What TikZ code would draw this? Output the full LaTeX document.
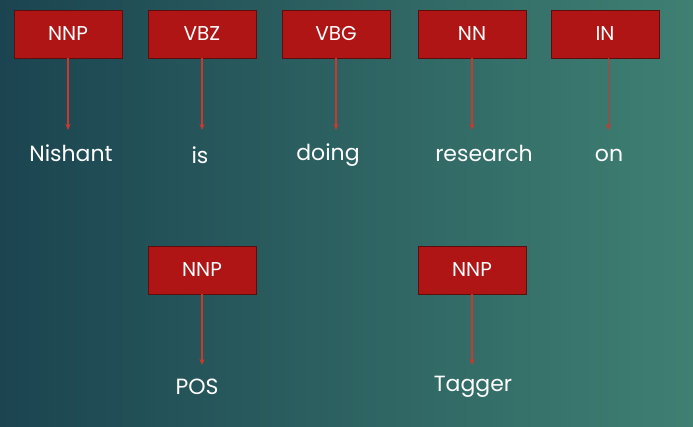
\documentclass[tikz,border=0pt]{standalone}
\usepackage{fontspec}
\setmainfont{Poppins}
\usetikzlibrary{arrows.meta,shadings}
\definecolor{bgA}{HTML}{1B4450}
\definecolor{bgB}{HTML}{3F8073}
\definecolor{tagred}{HTML}{B01515}
\definecolor{tagedge}{HTML}{5A0E0E}
\definecolor{arr}{HTML}{C83A30}
\begin{document}
\begin{tikzpicture}[x=1pt,y=-1pt,
  tagbox/.style={draw=tagedge,fill=tagred,minimum width=108pt,minimum height=48pt,text=white,font=\fontsize{20}{24}\selectfont,inner sep=0pt},
  word/.style={text=white,font=\fontsize{22}{26}\selectfont,inner sep=0pt},
  conn/.style={draw=arr,line width=1.2pt,-{Stealth[length=6pt,width=5pt]}}]
\useasboundingbox (0,0) rectangle (693,427);
\shade[left color=bgA,right color=bgB] (0,0) rectangle (693,427);
\node[tagbox] (t1) at (68,34) {NNP};
\node[tagbox] (t2) at (202,34) {VBZ};
\node[tagbox] (t3) at (336,34) {VBG};
\node[tagbox] (t4) at (472,34) {NN};
\node[tagbox] (t5) at (605,34) {IN};
\node[tagbox] (t6) at (202,270) {NNP};
\node[tagbox] (t7) at (472,270) {NNP};
\coordinate (a1) at (68,130);
\coordinate (a2) at (202,130);
\coordinate (a3) at (336,130);
\coordinate (a4) at (472,130);
\coordinate (a5) at (608.3,130);
\coordinate (a6) at (202,365);
\coordinate (a7) at (472,365);
\node[word] (w1) at (71,153) {Nishant};
\node[word] (w2) at (200,155) {is};
\node[word] (w3) at (328,155) {doing};
\node[word] (w4) at (484,153) {research};
\node[word] (w5) at (609,155) {on};
\node[word] (w6) at (197,387) {POS};
\node[word] (w7) at (473,387) {Tagger};
\draw[conn] (t1.south) -- (a1);
\draw[conn] (t2.south) -- (a2);
\draw[conn] (t3.south) -- (a3);
\draw[conn] (t4.south) -- (a4);
\draw[conn] (t5.south -| a5) -- (a5);
\draw[conn] (t6.south) -- (a6);
\draw[conn] (t7.south) -- (a7);
\end{tikzpicture}
\end{document}
